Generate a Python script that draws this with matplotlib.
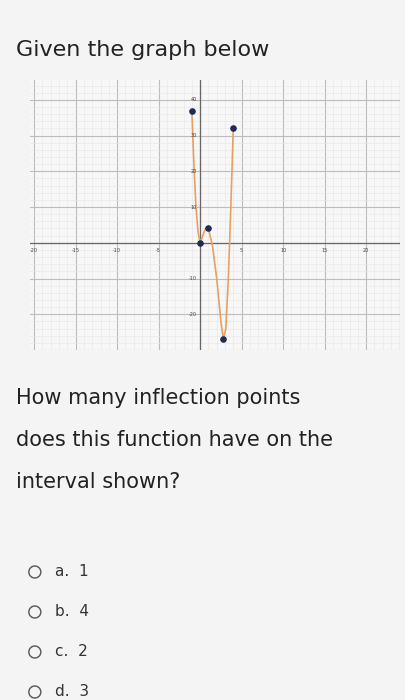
import matplotlib
matplotlib.use("Agg")
import matplotlib.pyplot as plt
import numpy as np
from matplotlib.patches import Ellipse

curve_x = [-1, -0.75, -0.5, -0.25, 0, 0.25, 0.5, 0.75, 1, 1.5, 2, 2.5, 2.8, 3.1, 3.4, 3.7, 4]
curve_y = [37, 22, 10, 3, 0, 1.5, 3.2, 4.2, 4, -1, -10, -22, -27, -24, -10, 10, 32]
pt_x = [-1, 0, 1, 2.8, 4]
pt_y = [37, 0, 4, -27, 32]
xticks = [-20, -15, -10, -5, 5, 10, 15, 20]
yticks = [-20, -10, 10, 20, 30, 40]
options = ["a.  1", "b.  4", "c.  2", "d.  3"]
question = ["How many inflection points", "does this function have on the", "interval shown?"]

fig = plt.figure(figsize=(4.05, 7), dpi=100)
fig.patch.set_facecolor("#f4f4f4")
fig.text(0.04, 0.928, "Given the graph below", fontsize=16, color="#222222", va="center")

ax = fig.add_axes([0.074, 0.5, 0.914, 0.386])
ax.set_facecolor("#f7f7f7")
ax.set_xlim(-20.5, 24.1)
ax.set_ylim(-30, 45.6)
ax.set_xticks(np.arange(-20, 25, 5))
ax.set_yticks(np.arange(-30, 46, 10))
ax.set_xticks(np.arange(-20, 25, 1), minor=True)
ax.set_yticks(np.arange(-30, 46, 2), minor=True)
ax.grid(which="major", color="#bdbdbd", lw=0.8)
ax.grid(which="minor", color="#e6e6e6", lw=0.4)
ax.tick_params(which="both", length=0, labelbottom=False, labelleft=False)
for s in ax.spines.values():
    s.set_visible(False)
ax.axhline(0, color="#666666", lw=0.9)
ax.axvline(0, color="#666666", lw=0.9)
for t in xticks:
    ax.text(t, -1.5, str(t), fontsize=3.5, ha="center", va="top", color="#444")
for t in yticks:
    ax.text(-0.4, t, str(t), fontsize=3.5, ha="right", va="center", color="#444")
ax.plot(curve_x, curve_y, color="#e8a060", lw=1.2)
ax.scatter(pt_x, pt_y, s=14, color="#1f2a55", zorder=3)

for i, line in enumerate(question):
    fig.text(0.04, 1 - (398 + 42 * i) / 700, line, fontsize=15, color="#222222", va="center")
for i, opt in enumerate(options):
    y = 1 - (572 + 40 * i) / 700
    fig.patches.append(Ellipse((0.086, y), 12 / 405, 12 / 700, transform=fig.transFigure,
                               fill=False, ec="#555555", lw=1.0, figure=fig))
    fig.text(0.135, y, opt, fontsize=11, color="#333333", va="center")

fig.savefig("out.png", dpi=100)
